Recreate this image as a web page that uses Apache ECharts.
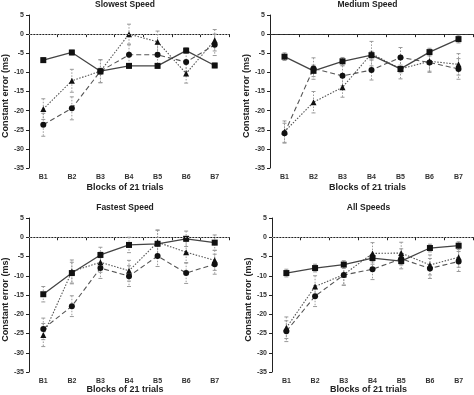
<!DOCTYPE html>
<html><head><meta charset="utf-8">
<script src="https://cdn.jsdelivr.net/npm/echarts@6/dist/echarts.min.js"></script>
<style>html,body{margin:0;padding:0;background:#fff}#c{width:474px;height:395px}</style>
</head><body><div id="c"></div>
<script>
const categories = ['B1','B2','B3','B4','B5','B6','B7'];
const titles = ['Slowest Speed','Medium Speed','Fastest Speed','All Speeds'];
const yTicks = [5,0,-5,-10,-15,-20,-25,-30,-35];

// Slowest
const slowSquare = [-6.8,-4.8,-9.7,-8.3,-8.3,-4.3,-8.2];
const slowSquareErr = [0.6,0.6,0.8,0.6,0.6,0.7,0.6];
const slowTri = [-19.6,-12.2,-9.7,0,-2.0,-10.3,-1.6];
const slowTriErr = [2.7,3.0,3.0,2.6,2.8,2.5,2.8];
const slowCirc = [-23.7,-19.4,-9.7,-5.4,-5.4,-7.3,-2.8];
const slowCircErr = [3.0,3.0,3.0,2.6,2.8,2.5,2.8];
// Medium
const medSquare = [-5.9,-9.6,-7.1,-5.5,-9.1,-4.7,-1.3];
const medSquareErr = [1.0,1.5,1.0,1.0,1.0,1.0,1.0];
const medTri = [-25.5,-17.8,-13.9,-5.1,-9.1,-7.1,-7.9];
const medTriErr = [2.8,2.8,2.6,3.2,2.6,2.6,2.8];
const medCirc = [-25.9,-9.0,-10.9,-9.4,-6.1,-7.4,-9.1];
const medCircErr = [2.6,2.8,2.6,2.6,2.6,2.6,2.7];
// Fastest
const fastSquare = [-14.8,-9.3,-4.6,-2.0,-1.7,-0.4,-1.4];
const fastSquareErr = [2.0,2.8,2.0,2.0,3.5,2.0,2.0];
const fastTri = [-25.4,-8.9,-6.5,-8.7,-1.3,-3.9,-6.0];
const fastTriErr = [3.0,3.0,2.6,2.7,3.2,2.8,2.6];
const fastCirc = [-23.8,-17.9,-8.0,-10.1,-4.9,-9.3,-7.0];
const fastCircErr = [2.8,2.7,2.7,2.7,2.7,2.7,2.6];
// All
const allSquare = [-9.3,-8.0,-7.1,-5.4,-6.2,-2.8,-2.2];
const allSquareErr = [1.0,1.0,1.0,1.0,1.0,1.0,1.0];
const allTri = [-23.5,-12.8,-9.7,-4.2,-4.1,-7.2,-5.2];
const allTriErr = [2.8,2.8,2.7,2.8,2.8,2.6,2.6];
const allCirc = [-24.4,-15.3,-9.8,-8.3,-5.6,-8.1,-6.3];
const allCircErr = [2.7,2.7,2.7,2.7,2.6,2.6,2.6];

const panels = [
  {sq:slowSquare,sqE:slowSquareErr,tr:slowTri,trE:slowTriErr,ci:slowCirc,ciE:slowCircErr,zeroDash:'dotted'},
  {sq:medSquare,sqE:medSquareErr,tr:medTri,trE:medTriErr,ci:medCirc,ciE:medCircErr,zeroDash:'dashed'},
  {sq:fastSquare,sqE:fastSquareErr,tr:fastTri,trE:fastTriErr,ci:fastCirc,ciE:fastCircErr,zeroDash:'dotted'},
  {sq:allSquare,sqE:allSquareErr,tr:allTri,trE:allTriErr,ci:allCirc,ciE:allCircErr,zeroDash:'dotted'}
];

const grids = [
  {left:29, top:15, width:200, height:153},
  {left:270, top:15, width:203, height:153},
  {left:29, top:218, width:200, height:154},
  {left:272, top:218, width:201, height:154}
];

const FONT = 'Liberation Sans, Arial, sans-serif';
const xAxes = [], yAxes = [], series = [], graphics = [];

function errRender(params, api) {
  const x = api.value(0), lo = api.value(1), hi = api.value(2);
  const a = api.coord([x, hi]), b = api.coord([x, lo]);
  const st = {stroke:'#9a9a9a', lineWidth:1, lineDash:[1.5,1.5]};
  const w = 2;
  return {type:'group', children:[
    {type:'line', shape:{x1:a[0],y1:a[1],x2:b[0],y2:b[1]}, style:st},
    {type:'line', shape:{x1:a[0]-w,y1:a[1],x2:a[0]+w,y2:a[1]}, style:{stroke:'#9a9a9a',lineWidth:1}},
    {type:'line', shape:{x1:b[0]-w,y1:b[1],x2:b[0]+w,y2:b[1]}, style:{stroke:'#9a9a9a',lineWidth:1}}
  ]};
}

panels.forEach((p, i) => {
  const g = grids[i];
  xAxes.push({type:'category', gridIndex:i, data:categories, boundaryGap:true,
    axisLine:{lineStyle:{color:'#222', width:1}},
    axisTick:{show:true, length:3, lineStyle:{color:'#222'}},
    axisLabel:{fontSize:7, fontWeight:'bold', color:'#333', fontFamily:FONT, margin:6}});
  yAxes.push({type:'value', gridIndex:i, min:-35, max:5, interval:5,
    axisLine:{show:true, lineStyle:{color:'#222', width:1}},
    axisTick:{show:true, length:3, lineStyle:{color:'#222'}},
    splitLine:{show:false},
    axisLabel:{fontSize:7, fontWeight:'bold', color:'#333', fontFamily:FONT, margin:5}});
  const mk = (vals, errs, sym, size, dash, name) => {
    series.push({type:'custom', xAxisIndex:i, yAxisIndex:i, renderItem:errRender, z:1, silent:true,
      data: vals.map((v,k)=>[k, v-errs[k], v+errs[k]])});
    series.push({type:'line', name, xAxisIndex:i, yAxisIndex:i, data:vals, symbol:sym, symbolSize:size,
      z:3, animation:false,
      itemStyle:{color:'#111'}, lineStyle:{color: dash==='solid' ? '#444' : '#555', width: dash==='solid'?1.3:1.1,
      type: dash}});
  };
  mk(p.tr, p.trE, 'triangle', 6, [1.5,1.5], 'tri');
  mk(p.ci, p.ciE, 'circle', 6, [5,3], 'circ');
  mk(p.sq, p.sqE, 'rect', 6, 'solid', 'sq');
  // zero line
  series.push({type:'line', xAxisIndex:i, yAxisIndex:i, data:[], silent:true,
    markLine:{symbol:'none', silent:true, label:{show:false},
      lineStyle: p.zeroDash==='dashed' ? {color:'#333', type:[3,2], width:1.2} : {color:'#aaa', type:[1.5,1.5], width:1},
      data:[{yAxis:0}]}});
  const cx = g.left + g.width/2 - 4;
  graphics.push({type:'text', x:cx, y:(i<2?4.5:207.5),
    style:{text:titles[i], font:'bold 8.5px '+FONT, fill:'#222', textAlign:'center', textVerticalAlign:'middle'}});
  graphics.push({type:'text', x:cx, y:(i<2?188:390),
    style:{text:'Blocks of 21 trials', font:'bold 9px '+FONT, fill:'#222', textAlign:'center', textVerticalAlign:'middle'}});
  graphics.push({type:'text', x:g.left-23, y:g.top+g.height*0.53, rotation:Math.PI/2,
    style:{text:'Constant error (ms)', font:'bold 9px '+FONT, fill:'#222', textAlign:'center', textVerticalAlign:'middle'}});
});

const chart = echarts.init(document.getElementById('c'), null, {renderer:'canvas'});
chart.setOption({animation:false, grid:grids, xAxis:xAxes, yAxis:yAxes, series, graphic:graphics});
</script></body></html>
